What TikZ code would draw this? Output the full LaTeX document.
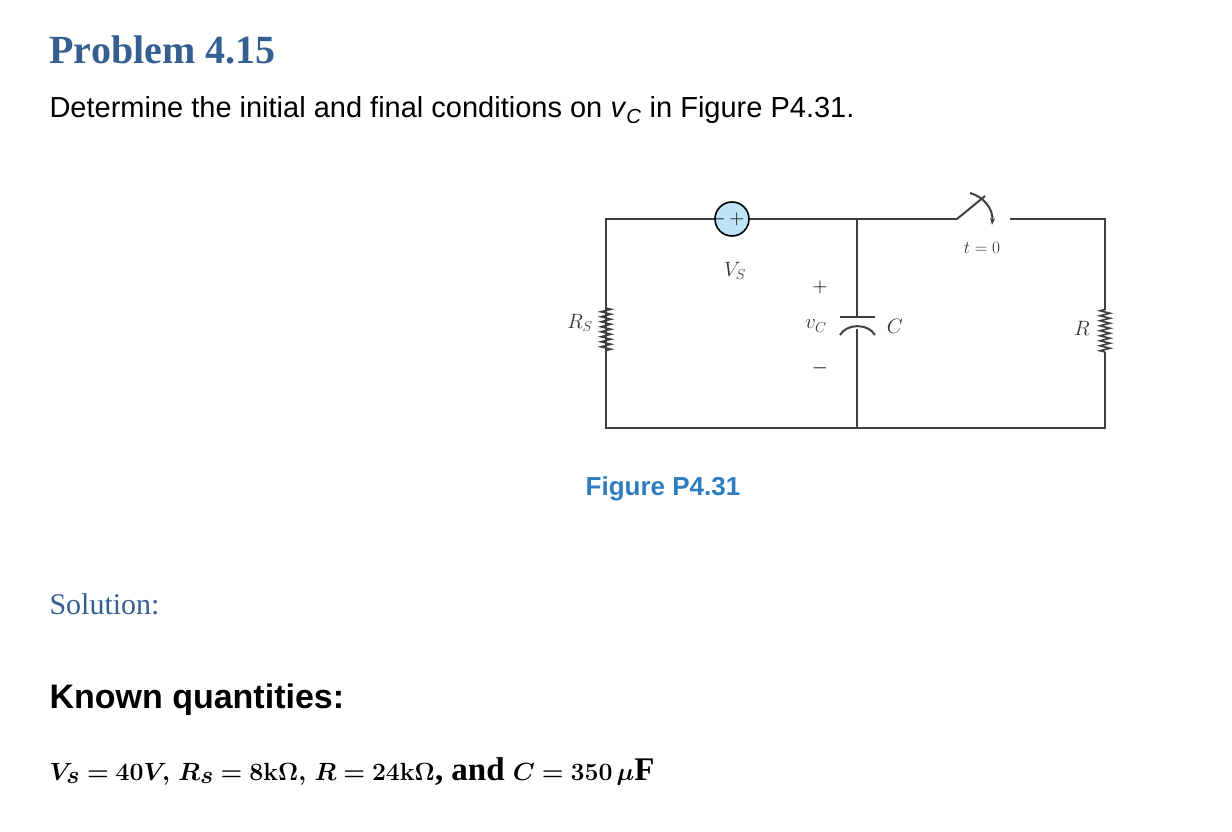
\documentclass[tikz,border=0pt]{standalone}
\usepackage{amsmath,bm}
\usepackage{fontspec}
\setmainfont{Liberation Serif}
\setsansfont{Liberation Sans}
\usetikzlibrary{arrows.meta,decorations.pathmorphing}
\definecolor{ttl}{HTML}{365F91}
\definecolor{figc}{HTML}{2E7DC0}
\definecolor{src}{HTML}{BFE3F7}
\begin{document}
\begin{tikzpicture}[x=1pt,y=-1pt,
  wire/.style={line width=2pt,black!75},
  resz/.style={line width=1.6pt,decorate,decoration={zigzag,segment length=5pt,amplitude=5pt}},
  lbl/.style={font=\fontsize{20}{22}\selectfont\itshape,text=black!80}]
\useasboundingbox (0,0) rectangle (1232,832);
\node[anchor=base west,text=ttl,font=\fontsize{40}{44}\selectfont\bfseries] (title) at (46,64) {Problem 4.15};
\node[anchor=base west,font=\sffamily\fontsize{29}{32}\selectfont] (q) at (46,118) {Determine the initial and final conditions on \textit{v}\textsubscript{\textit{C}} in Figure P4.31.};
% circuit
\coordinate (tl) at (606,219); \coordinate (tr) at (1105,219);
\coordinate (bl) at (606,428); \coordinate (br) at (1105,428);
\coordinate (ct) at (857,219); \coordinate (cb) at (857,428);
\coordinate (sa) at (957,219); \coordinate (sb) at (1010,219);
\node[circle,draw,line width=1.6pt,fill=src,minimum size=34pt,inner sep=0] (vs) at (732,219) {};
\node[font=\fontsize{22}{22}\selectfont] at (727,219) {$-$\,$+$};
\draw[wire] (bl) -- (606,308);
\draw[wire,resz] (606,308) -- (606,352);
\draw[wire] (606,352) -- (606,428) -- (cb) -- (br) -- (1105,352);
\draw[wire,resz] (1105,352) -- (1105,308);
\draw[wire] (1105,308) -- (tr) -- (sb);
\draw[wire] (606,308) -- (tl) -- (vs.west);
\draw[wire] (vs.east) -- (ct) -- (sa);
\draw[wire] (sa) -- (985,196);
\draw[wire,-{Stealth[length=7pt]}] (970,193) to[bend left=40] (992,225);
\draw[wire] (ct) -- (857,317);
\draw[wire] (840,317) -- (875,317);
\draw[wire] (840,335) to[bend left=60] (875,335);
\draw[wire] (857,329) -- (cb);
\node[lbl] (rs) at (580,323) {$R_S$};
\node[lbl] (r) at (1082,328) {$R$};
\node[lbl] (vsl) at (735,271) {$V_S$};
\node[lbl] (c) at (895,326) {$C$};
\node[lbl] (vc) at (816,326) {$v_C$};
\node[font=\fontsize{22}{22}\selectfont] at (820,287) {$+$};
\node[font=\fontsize{22}{22}\selectfont] at (820,368) {$-$};
\node[lbl,font=\fontsize{19}{20}\selectfont] (t0) at (982,248) {$t=0$};
\node[text=figc,font=\sffamily\bfseries\fontsize{26}{28}\selectfont] (fig) at (663,489) {Figure P4.31};
\node[anchor=base west,text=ttl,font=\fontsize{30}{32}\selectfont] (sol) at (46,614) {Solution:};
\node[anchor=base west,font=\sffamily\bfseries\fontsize{34}{36}\selectfont] (kq) at (46,708) {Known quantities:};
\node[anchor=base west,font=\bfseries\fontsize{33}{36}\selectfont] (eq) at (46,780) {$\bm{V_s=40V,\,R_s=8\mathbf{k}\Omega,\,R=24\mathbf{k}\Omega}$, and $\bm{C=350\,\mu}$F};
\end{tikzpicture}
\end{document}
